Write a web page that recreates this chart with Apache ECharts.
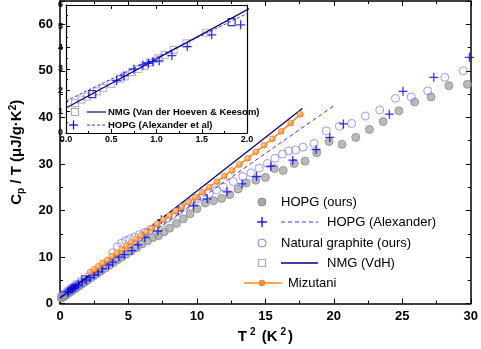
<!DOCTYPE html>
<html>
<head>
<meta charset="utf-8">
<script src="https://cdn.jsdelivr.net/npm/echarts@6/dist/echarts.min.js"></script>
<style>
  html, body { margin: 0; padding: 0; background: #fff; }
  #chart { width: 481px; height: 349px; }
</style>
</head>
<body>
<div id="chart"></div>
<script>
// HOPG (ours) - grey filled circles
var hopgX = [0.1, 0.25, 0.4, 0.55, 0.7, 0.85, 1.0, 1.2, 1.4, 1.6, 1.8, 2.0, 2.25, 2.5, 2.75, 3.0, 3.3, 3.6, 3.9, 4.2, 4.5, 4.85, 5.2, 5.6, 6.0, 6.4, 6.8, 7.2, 7.6, 8.0, 8.5, 9.0, 9.5, 10.0, 10.6, 11.2, 11.8, 12.4, 13.0, 13.6, 14.3, 15.0, 15.65, 16.3, 17.1, 17.9, 18.75, 19.65, 20.6, 21.6, 22.6, 23.6, 24.75, 25.9, 27.1, 28.4, 29.75];
var hopgY = [1.2, 1.5, 1.8, 2.1, 2.4, 2.7, 3.0, 3.4, 3.8, 4.2, 4.6, 5.0, 5.5, 6.0, 6.5, 7.0, 7.6, 8.2, 8.8, 9.4, 10.0, 10.6, 11.3, 12.0, 12.8, 13.5, 14.2, 14.6, 15.4, 16.2, 17.2, 18.2, 19.3, 20.4, 21.6, 22.1, 22.6, 23.4, 24.6, 25.9, 26.5, 27.1, 29.0, 28.6, 30.1, 30.6, 32.4, 34.8, 34.2, 35.7, 37.4, 39.1, 41.4, 43.3, 44.4, 46.8, 47.1];

// HOPG (Alexander) - blue crosses
var alexX = [0.56, 0.64, 0.75, 0.85, 0.91, 0.96, 1.03, 1.17, 1.34, 1.61, 1.93, 2.2, 2.5, 2.8, 3.1, 3.55, 3.85, 4.3, 4.7, 5.25, 5.7, 6.2, 7.15, 7.4, 8.65, 9.75, 10.75, 12.2, 13.3, 14.35, 15.4, 17.0, 18.7, 19.7, 20.7, 24.05, 25.05, 27.3, 29.9];
var alexY = [2.46, 2.68, 2.99, 3.19, 3.27, 3.35, 3.38, 3.63, 4.05, 4.6, 5.07, 5.6, 6.2, 6.8, 7.5, 8.3, 8.9, 10.0, 10.5, 11.4, 12.6, 14.2, 15.6, 18.0, 19.9, 21.0, 22.5, 24.0, 25.7, 27.3, 29.5, 30.8, 33.1, 35.7, 38.6, 40.7, 45.6, 48.6, 52.9];
var alexFitX = [0, 20];
var alexFitY = [1.5, 42.5];

// Natural graphite (ours) - open circles
var natX = [0.3, 0.6, 0.9, 1.2, 1.5, 1.8, 2.1, 2.45, 2.8, 3.15, 3.5, 3.85, 4.2, 4.5, 4.8, 5.1, 5.45, 5.8, 6.2, 6.6, 7.0, 7.4, 7.85, 8.25, 8.7, 9.15, 9.6, 10.0, 10.45, 10.9, 11.45, 11.9, 12.65, 13.35, 13.95, 14.55, 15.15, 15.7, 16.25, 16.7, 17.2, 17.75, 18.55, 19.45, 20.4, 21.3, 22.3, 23.35, 24.5, 25.65, 26.85, 28.1, 29.45];
var natY = [1.9, 2.5, 3.2, 3.8, 4.5, 5.1, 5.8, 6.5, 7.3, 8.0, 8.8, 10.9, 12.2, 13.0, 13.5, 13.9, 14.3, 14.8, 15.3, 15.9, 16.5, 17.3, 18.3, 19.1, 20.0, 20.9, 21.8, 22.5, 23.0, 23.7, 24.4, 25.1, 26.2, 27.3, 28.1, 29.1, 30.1, 31.2, 32.1, 32.8, 33.0, 33.6, 34.4, 37.1, 38.1, 38.7, 40.3, 41.6, 44.1, 44.4, 45.7, 48.6, 50.0];

// NMG (Van der Hoeven & Keesom) - open squares
var nmgX = [0.1, 0.17, 0.23, 0.34, 0.41, 0.5, 0.6, 0.65, 0.73, 0.8, 0.87, 0.93, 1.02, 1.09, 1.19, 1.33, 1.55];
var nmgY = [1.4, 1.56, 1.7, 1.95, 2.1, 2.3, 2.55, 2.65, 2.85, 3.0, 3.15, 3.3, 3.5, 3.65, 3.9, 4.2, 4.7];
var nmgDarkX = [0.29, 1.83];
var nmgDarkY = [1.82, 5.2];
var nmgFitX = [0, 17.7];
var nmgFitY = [1.17, 41.9];

// Mizutani - orange line with markers
var mizX = [2.2, 2.5, 2.8, 3.1, 3.45, 3.8, 4.15, 4.5, 4.85, 5.2, 5.55, 5.9, 6.3, 6.7, 7.1, 7.55, 8.0, 8.45, 8.9, 9.4, 9.9, 10.4, 10.9, 11.45, 12.0, 12.55, 13.1, 13.7, 14.3, 14.9, 15.5, 16.15, 16.85, 17.55];
var mizY = [6.8, 7.4, 8.0, 8.7, 9.4, 10.2, 10.9, 11.7, 12.4, 13.1, 13.9, 14.6, 15.4, 16.2, 17.1, 18.0, 18.9, 19.9, 20.8, 21.8, 22.8, 23.9, 25.0, 26.2, 27.4, 28.6, 29.9, 31.2, 32.6, 34.0, 35.4, 37.0, 38.8, 40.7];

function zip(xs, ys) {
  return xs.map(function (x, i) { return [x, ys[i]]; });
}

var font = 'Arial, "Liberation Sans", Helvetica, sans-serif';
var crossPath = 'path://M0,5L10,5M5,0L5,10';
var orangeBall = new echarts.graphic.RadialGradient(0.35, 0.35, 0.75, [
  {offset: 0, color: '#ffd2a0'},
  {offset: 1, color: '#f07a10'}
]);

var styles = {
  hopg: {symbol: 'circle', symbolSize: 8, itemStyle: {color: '#a9a9a9', borderColor: '#8a8a8a', borderWidth: 1}},
  alex: {symbol: crossPath, symbolSize: 9, itemStyle: {color: 'rgba(0,0,0,0)', borderColor: '#0000ff', borderWidth: 1.3}},
  nat: {symbol: 'circle', symbolSize: 8, itemStyle: {color: 'rgba(255,255,255,0)', borderColor: '#7f7fff', borderWidth: 1}},
  nmg: {symbol: 'rect', symbolSize: 7, itemStyle: {color: 'rgba(255,255,255,0)', borderColor: '#a8a8b8', borderWidth: 1.2}},
  nmgDark: {symbol: 'rect', symbolSize: 7, itemStyle: {color: 'rgba(255,255,255,0)', borderColor: '#000080', borderWidth: 1.2}}
};

function axisCommon(extra) {
  var base = {
    axisLine: {show: true, onZero: false, lineStyle: {color: '#000', width: 1.5}},
    axisTick: {show: true, inside: true, length: 5, lineStyle: {color: '#000', width: 1}},
    minorTick: {show: true, splitNumber: 2, length: 3, lineStyle: {color: '#000', width: 1}},
    splitLine: {show: false},
    axisLabel: {show: true, color: '#000', fontFamily: font, fontWeight: 'bold', fontSize: 13}
  };
  return Object.assign(base, extra);
}

var chart = echarts.init(document.getElementById('chart'), null, {renderer: 'canvas'});

var option = {
  animation: false,
  backgroundColor: '#fff',
  grid: [
    {left: 53, top: 1, width: 420, height: 304},
    {left: 66, top: 5, width: 181, height: 128}
  ],
  xAxis: [
    axisCommon({type: 'value', gridIndex: 0, min: 0, max: 30, interval: 5, position: 'bottom',
      name: 'T{sup|2} (K{sup|2})', nameLocation: 'middle', nameGap: 22,
      nameTextStyle: {fontFamily: font, fontWeight: 'bold', fontSize: 15, color: '#000',
        rich: {sup: {fontFamily: font, fontWeight: 'bold', fontSize: 10, verticalAlign: 'top', padding: [0, 2, 8, 3]}}},
      axisLabel: {color: '#000', fontFamily: font, fontWeight: 'bold', fontSize: 13, margin: 6}}),
    axisCommon({type: 'value', gridIndex: 0, min: 0, max: 30, interval: 5, position: 'top',
      axisLabel: {show: false}}),
    axisCommon({type: 'value', gridIndex: 1, min: 0, max: 2, interval: 0.5, position: 'bottom',
      axisLine: {show: true, onZero: false, lineStyle: {color: '#000', width: 1.2}},
      axisTick: {show: true, inside: true, length: 4, lineStyle: {color: '#000'}},
      minorTick: {show: true, splitNumber: 2, length: 2, lineStyle: {color: '#000'}},
      axisLabel: {color: '#000', fontFamily: font, fontWeight: 'bold', fontSize: 9, margin: 2,
        formatter: function (v) { return v.toFixed(1); }}}),
    axisCommon({type: 'value', gridIndex: 1, min: 0, max: 2, interval: 0.5, position: 'top',
      axisLine: {show: true, onZero: false, lineStyle: {color: '#000', width: 1.2}},
      axisTick: {show: true, inside: true, length: 4, lineStyle: {color: '#000'}},
      minorTick: {show: false},
      axisLabel: {show: false}})
  ],
  yAxis: [
    axisCommon({type: 'value', gridIndex: 0, min: 0, max: 65, interval: 10, position: 'left',
      name: 'C{sub|p} / T (μJ/g·K{sup|2})', nameLocation: 'middle', nameGap: 34, nameRotate: 90,
      nameTextStyle: {fontFamily: font, fontWeight: 'bold', fontSize: 15, color: '#000',
        rich: {
          sub: {fontFamily: font, fontWeight: 'bold', fontSize: 10, verticalAlign: 'bottom', padding: [6, 0, 0, 0]},
          sup: {fontFamily: font, fontWeight: 'bold', fontSize: 10, verticalAlign: 'top', padding: [0, 0, 8, 0]}
        }},
      axisLabel: {color: '#000', fontFamily: font, fontWeight: 'bold', fontSize: 13, margin: 7, showMaxLabel: false}}),
    axisCommon({type: 'value', gridIndex: 0, min: 0, max: 65, interval: 10, position: 'right',
      axisLabel: {show: false}}),
    axisCommon({type: 'value', gridIndex: 1, min: 0, max: 6, interval: 1, position: 'left',
      axisLine: {show: true, onZero: false, lineStyle: {color: '#000', width: 1.2}},
      axisTick: {show: true, inside: true, length: 4, lineStyle: {color: '#000'}},
      minorTick: {show: true, splitNumber: 2, length: 2, lineStyle: {color: '#000'}},
      axisLabel: {color: '#000', fontFamily: font, fontWeight: 'bold', fontSize: 9, margin: 3}}),
    axisCommon({type: 'value', gridIndex: 1, min: 0, max: 6, interval: 1, position: 'right',
      axisLine: {show: true, onZero: false, lineStyle: {color: '#000', width: 1.2}},
      axisTick: {show: false},
      minorTick: {show: false},
      axisLabel: {show: false}})
  ],
  series: [
    // main plot
    Object.assign({type: 'scatter', name: 'NMG (VdH)', xAxisIndex: 0, yAxisIndex: 0, z: 2, data: zip(nmgX, nmgY)}, styles.nmg),
    Object.assign({type: 'scatter', name: 'NMG dark', xAxisIndex: 0, yAxisIndex: 0, z: 2, data: zip(nmgDarkX, nmgDarkY)}, styles.nmgDark),
    Object.assign({type: 'scatter', name: 'HOPG (ours)', xAxisIndex: 0, yAxisIndex: 0, z: 3, data: zip(hopgX, hopgY)}, styles.hopg),
    Object.assign({type: 'scatter', name: 'Natural graphite (ours)', xAxisIndex: 0, yAxisIndex: 0, z: 4, data: zip(natX, natY)}, styles.nat),
    Object.assign({type: 'scatter', name: 'HOPG (Alexander)', xAxisIndex: 0, yAxisIndex: 0, z: 5, data: zip(alexX, alexY)}, styles.alex),
    {type: 'line', name: 'Alexander fit', xAxisIndex: 0, yAxisIndex: 0, z: 6, showSymbol: false, data: zip(alexFitX, alexFitY),
      lineStyle: {color: '#3333ff', width: 1, type: [4, 3]}},
    {type: 'line', name: 'VdH fit', xAxisIndex: 0, yAxisIndex: 0, z: 6, showSymbol: false, data: zip(nmgFitX, nmgFitY),
      lineStyle: {color: '#000080', width: 1.3}},
    {type: 'line', name: 'Mizutani', xAxisIndex: 0, yAxisIndex: 0, z: 7, data: zip(mizX, mizY),
      symbol: 'circle', symbolSize: 6, showAllSymbol: true,
      lineStyle: {color: '#ff8a1a', width: 1.6},
      itemStyle: {color: orangeBall, borderColor: '#e87010', borderWidth: 0.5}},
    // inset
    Object.assign({type: 'scatter', xAxisIndex: 2, yAxisIndex: 2, z: 8, data: zip(nmgX, nmgY)}, styles.nmg),
    Object.assign({type: 'scatter', xAxisIndex: 2, yAxisIndex: 2, z: 8, data: zip(nmgDarkX, nmgDarkY)}, styles.nmgDark),
    {type: 'line', xAxisIndex: 2, yAxisIndex: 2, z: 9, showSymbol: false, clip: true, data: zip(alexFitX, alexFitY),
      lineStyle: {color: '#3333ff', width: 1, type: [3, 2]}},
    {type: 'line', xAxisIndex: 2, yAxisIndex: 2, z: 9, showSymbol: false, clip: true, data: zip(nmgFitX, nmgFitY),
      lineStyle: {color: '#000080', width: 1.2}},
    Object.assign({type: 'scatter', xAxisIndex: 2, yAxisIndex: 2, z: 10, data: zip(alexX, alexY), clip: true}, styles.alex)
  ],
  graphic: [
    // main legend
    {type: 'circle', shape: {cx: 262, cy: 202, r: 4}, style: {fill: '#a9a9a9', stroke: '#8a8a8a', lineWidth: 1}},
    {type: 'text', x: 281, y: 202, style: {text: 'HOPG (ours)', font: '13px ' + font, fill: '#000', textVerticalAlign: 'middle'}},
    {type: 'line', shape: {x1: 257, y1: 222, x2: 267, y2: 222}, style: {stroke: '#0000ff', lineWidth: 1.3}},
    {type: 'line', shape: {x1: 262, y1: 217, x2: 262, y2: 227}, style: {stroke: '#0000ff', lineWidth: 1.3}},
    {type: 'line', shape: {x1: 281, y1: 222, x2: 318, y2: 222}, style: {stroke: '#3333ff', lineWidth: 1, lineDash: [4, 3]}},
    {type: 'text', x: 327, y: 222, style: {text: 'HOPG (Alexander)', font: '13px ' + font, fill: '#000', textVerticalAlign: 'middle'}},
    {type: 'circle', shape: {cx: 262, cy: 243, r: 4}, style: {fill: 'none', stroke: '#7f7fff', lineWidth: 1}},
    {type: 'text', x: 281, y: 243, style: {text: 'Natural graphite (ours)', font: '13px ' + font, fill: '#000', textVerticalAlign: 'middle'}},
    {type: 'rect', shape: {x: 258.5, y: 259.5, width: 7, height: 7}, style: {fill: 'none', stroke: '#a8a8b8', lineWidth: 1.2}},
    {type: 'line', shape: {x1: 281, y1: 263, x2: 318, y2: 263}, style: {stroke: '#000080', lineWidth: 1.3}},
    {type: 'text', x: 327, y: 263, style: {text: 'NMG (VdH)', font: '13px ' + font, fill: '#000', textVerticalAlign: 'middle'}},
    {type: 'line', shape: {x1: 244, y1: 283, x2: 282, y2: 283}, style: {stroke: '#ff8a1a', lineWidth: 1.6}},
    {type: 'circle', shape: {cx: 262, cy: 283, r: 3}, style: {fill: '#f58a2a', stroke: '#e87010', lineWidth: 0.5}},
    {type: 'text', x: 288, y: 283, style: {text: 'Mizutani', font: '13px ' + font, fill: '#000', textVerticalAlign: 'middle'}},
    // inset legend
    {type: 'rect', z: 20, shape: {x: 71.5, y: 108.5, width: 7, height: 7}, style: {fill: 'none', stroke: '#a8a8b8', lineWidth: 1.2}},
    {type: 'line', z: 20, shape: {x1: 87, y1: 112, x2: 106, y2: 112}, style: {stroke: '#000080', lineWidth: 1.2}},
    {type: 'text', z: 20, x: 108, y: 112, style: {text: 'NMG (Van der Hoeven & Keesom)', font: 'bold 9.5px ' + font, fill: '#000', textVerticalAlign: 'middle'}},
    {type: 'line', z: 20, shape: {x1: 69, y1: 125, x2: 78, y2: 125}, style: {stroke: '#0000ff', lineWidth: 1.2}},
    {type: 'line', z: 20, shape: {x1: 73.5, y1: 120.5, x2: 73.5, y2: 129.5}, style: {stroke: '#0000ff', lineWidth: 1.2}},
    {type: 'line', z: 20, shape: {x1: 87, y1: 125, x2: 106, y2: 125}, style: {stroke: '#3333ff', lineWidth: 1, lineDash: [3, 2]}},
    {type: 'text', z: 20, x: 108, y: 125, style: {text: 'HOPG (Alexander et al)', font: 'bold 9.5px ' + font, fill: '#000', textVerticalAlign: 'middle'}}
  ]
};

chart.setOption(option);
</script>
</body>
</html>
